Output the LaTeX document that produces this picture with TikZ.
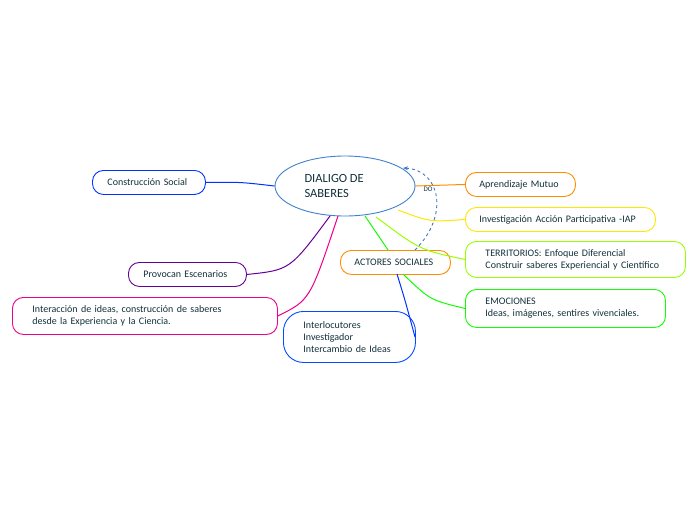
\documentclass[tikz,border=0pt]{standalone}
\usepackage{fontspec}
\setmainfont{Carlito}
\usetikzlibrary{arrows.meta,shapes.geometric}
\definecolor{txt}{HTML}{12303A}
\tikzset{
 x=1pt,y=-1pt,
 box/.style={draw,rounded corners=11pt,line width=0.9pt,font=\fontsize{10}{12}\selectfont,text=txt,align=left,anchor=north west,inner sep=0pt},
 conn/.style={line width=1pt},
}
\begin{document}
\begin{tikzpicture}
\useasboundingbox (0,0) rectangle (696,520);
\node[draw=cyan!50!blue!80!white,ellipse,minimum width=140pt,minimum height=60pt,line width=0.9pt] (c) at (345,186) {};
\node[font=\fontsize{12.5}{15}\selectfont,text=txt,align=left,anchor=west] at (301,186) {DIALIGO DE\\SABERES};
\node[box,draw=blue!80!cyan,minimum width=113pt,minimum height=24pt,text width=113pt] (cs) at (92,170) {\hspace*{15pt}Construcción Social};
\node[box,draw=violet!80!blue,minimum width=118pt,minimum height=24pt,text width=118pt] (pe) at (128,262) {\hspace*{15pt}Provocan Escenarios};
\node[box,draw=magenta,minimum width=265pt,minimum height=37pt,text width=265pt] (ii) at (12,297) {\hspace*{20pt}Interacción de ideas, construcción de saberes\\\hspace*{20pt}desde la Experiencia y la Ciencia.};
\node[box,draw=blue!70!cyan,rounded corners=20pt,minimum width=132pt,minimum height=51pt,text width=132pt] (il) at (283,311) {\hspace*{20pt}Interlocutores\\\hspace*{20pt}Investigador\\\hspace*{20pt}Intercambio de Ideas};
\node[box,draw=orange!90!yellow,minimum width=110pt,minimum height=24pt,text width=110pt] (as) at (340,250) {\hspace*{14pt}ACTORES SOCIALES};
\node[box,draw=orange!90!yellow,minimum width=110pt,minimum height=24pt,text width=110pt] (am) at (465,172) {\hspace*{14pt}Aprendizaje Mutuo};
\node[box,draw=yellow!90!orange,minimum width=190pt,minimum height=24pt,text width=190pt] (iap) at (465,207) {\hspace*{14pt}Investigación Acción Participativa -IAP};
\node[box,draw=lime!80!green,minimum width=220pt,minimum height=36pt,text width=220pt] (te) at (465,241) {\hspace*{20pt}TERRITORIOS: Enfoque Diferencial\\\hspace*{20pt}Construir saberes Experiencial y Científico};
\node[box,draw=green!90!lime,minimum width=200pt,minimum height=38pt,text width=200pt] (em) at (465,289) {\hspace*{20pt}EMOCIONES\\\hspace*{20pt}Ideas, imágenes, sentires vivenciales.};
\draw[conn,blue!80!cyan] (cs.east) .. controls (240,182) .. (c.west);
\draw[conn,violet!80!blue] (pe.east) .. controls (290,270) .. (330,216);
\draw[conn,magenta] (ii.east) .. controls (310,300) .. (338,216);
\draw[conn,orange!90!yellow] (c.east) -- (am.west);
\draw[conn,yellow!90!orange] (398,210) .. controls (430,222) .. (iap.west);
\draw[conn,lime!80!green] (376,217) .. controls (420,250) .. (te.west);
\draw[conn,green!90!lime] (365,216) -- (388,250);
\draw[conn,green!90!lime] (403,274) .. controls (430,300) .. (em.west);
\draw[conn,blue!80!cyan] (397,274) .. controls (405,300) .. (415,337);
\draw[line width=0.9pt,cyan!40!blue!80!white,dashed,-{Stealth[length=5pt]}] (415,250) .. controls (450,215) and (440,170) .. (403,168);
\node[font=\fontsize{7}{8}\selectfont,text=txt,fill=white,inner sep=1pt] at (428,189) {DO};
\end{tikzpicture}
\end{document}
